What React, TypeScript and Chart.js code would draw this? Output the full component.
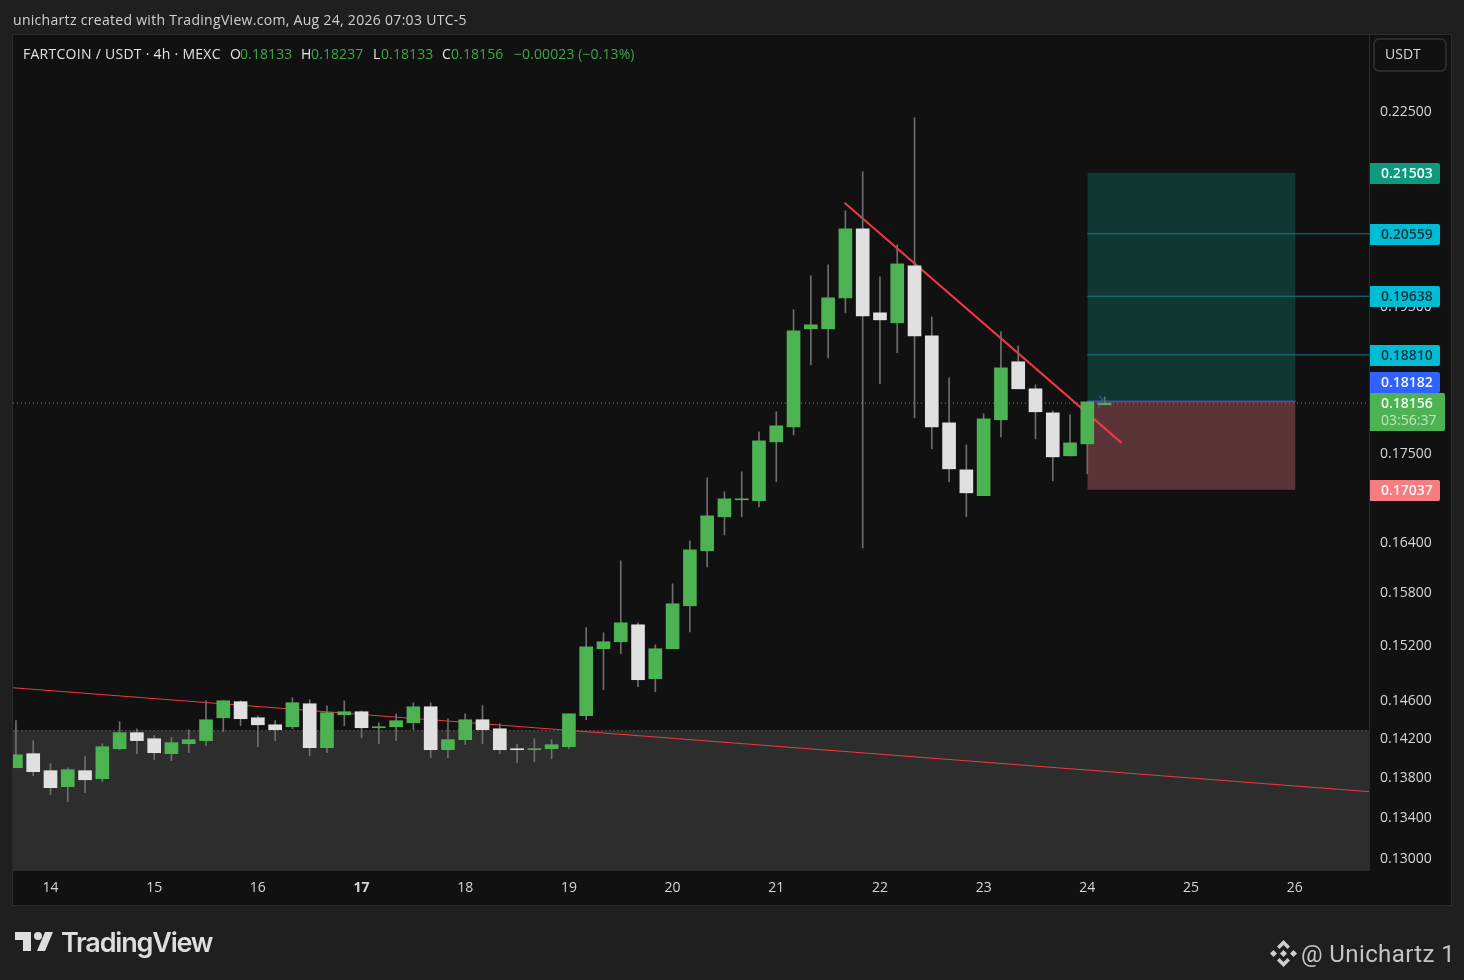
import React, { useEffect, useRef } from "react";
import { Chart, registerables } from "chart.js";

Chart.register(...registerables);

const FIRST_BAR = -2;
const opens = [0.13891,0.14035,0.13861,0.13699,0.13861,0.13779,0.14086,0.14253,0.14190,0.14035,0.14138,0.14170,0.14410,0.14581,0.14410,0.14336,0.14315,0.14559,0.14097,0.14442,0.14474,0.14305,0.14315,0.14357,0.14527,0.14076,0.14180,0.14389,0.14294,0.14086,0.14076,0.14086,0.14107,0.14431,0.15159,0.15237,0.15428,0.14829,0.15159,0.15645,0.16289,0.16701,0.16911,0.16899,0.17646,0.17842,0.19173,0.19173,0.19615,0.20634,0.19400,0.19258,0.20081,0.19075,0.17894,0.17287,0.16961,0.17934,0.18715,0.18347,0.18026,0.17466,0.17620,0.18133];
const highs = [0.14379,0.14170,0.13932,0.13891,0.14004,0.14138,0.14368,0.14294,0.14222,0.14201,0.14284,0.14591,0.14591,0.14591,0.14431,0.14379,0.14624,0.14602,0.14538,0.14591,0.14484,0.14357,0.14452,0.14570,0.14570,0.14400,0.14452,0.14538,0.14347,0.14128,0.14190,0.14180,0.14452,0.15395,0.15338,0.16170,0.15451,0.15204,0.15900,0.16409,0.17186,0.17010,0.17262,0.17777,0.18040,0.19443,0.19934,0.20096,0.20909,0.21516,0.19920,0.20393,0.22386,0.19343,0.18496,0.17607,0.18013,0.19131,0.18935,0.18401,0.18053,0.18000,0.18172,0.18237];
const lows = [0.13891,0.13810,0.13619,0.13549,0.13639,0.13749,0.14076,0.14035,0.13973,0.13963,0.14045,0.14118,0.14263,0.14326,0.14107,0.14170,0.14294,0.14014,0.14045,0.14326,0.14201,0.14138,0.14170,0.14284,0.13994,0.13994,0.14128,0.14138,0.14035,0.13942,0.13952,0.13983,0.14086,0.14389,0.14710,0.15104,0.14742,0.14688,0.15159,0.15349,0.16099,0.16481,0.16701,0.16824,0.17136,0.17737,0.18673,0.18769,0.19400,0.16325,0.18415,0.18839,0.17960,0.17556,0.17136,0.16701,0.16961,0.17711,0.18347,0.17685,0.17148,0.17466,0.17236,0.18133];
const closes = [0.14024,0.13851,0.13689,0.13871,0.13769,0.14107,0.14253,0.14170,0.14045,0.14149,0.14180,0.14389,0.14591,0.14400,0.14336,0.14284,0.14570,0.14097,0.14463,0.14474,0.14305,0.14315,0.14379,0.14527,0.14076,0.14180,0.14389,0.14284,0.14076,0.14076,0.14086,0.14128,0.14452,0.15181,0.15237,0.15451,0.14818,0.15159,0.15668,0.16301,0.16713,0.16923,0.16923,0.17659,0.17855,0.19145,0.19230,0.19615,0.20634,0.19357,0.19300,0.20110,0.19075,0.17842,0.17300,0.16998,0.17947,0.18632,0.18347,0.18040,0.17453,0.17633,0.18172,0.18156];

const dayLabels = ["14","15","16","17","18","19","20","21","22","23","24","25","26"];
const dayBars = [0,6,12,18,24,30,36,42,48,54,60,66,72];
const priceTicks = [0.225,0.195,0.175,0.164,0.158,0.152,0.146,0.142,0.138,0.134,0.13];

const axisBars = [-2.17, 76.3];
const axisPrices = [0.12886, 0.2379];
const zonePrice = 0.14274;
const thinTrendBars = [-2.17, 76.3];
const thinTrendPrices = [0.14731, 0.13649];
const thickTrendBars = [45.95, 61.98];
const thickTrendPrices = [0.21032, 0.17633];
const positionBars = [60, 72.05];
const targetPrice = 0.21503;
const entryPrice = 0.18182;
const stopPrice = 0.17037;
const takeProfits = [0.20559, 0.19638, 0.1881];
const lastPrice = 0.18156;
const countdown = "03:56:37";

const GREEN = "#4db252";
const WHITE = "#e0e0e0";
const WICK = "#6e6e6e";
const RED = "#f23645";
const FONT = "'Open Sans', sans-serif";

const barIndex = opens.map((_, k) => k + FIRST_BAR);

const legendItems: [string, string, number, number][] = [
  ["FARTCOIN / USDT · 4h · MEXC", "#e3e3e3", 23, 0.27],
  ["O", "#e3e3e3", 230, 0],
  ["0.18133", "#3ca845", 240, 0.1],
  ["H", "#e3e3e3", 301, 0],
  ["0.18237", "#3ca845", 311, 0.1],
  ["L", "#e3e3e3", 373, 0],
  ["0.18133", "#3ca845", 381, 0.1],
  ["C", "#e3e3e3", 442, 0],
  ["0.18156", "#3ca845", 451, 0.1],
  ["−0.00023 (−0.13%)", "#3ca845", 514, 0.1],
];

const chrome = {
  id: "chrome",
  beforeDraw(c: any) {
    const g = c.ctx;
    g.save();
    g.fillStyle = "#1f1f1f";
    g.fillRect(0, 0, c.width, c.height);
    g.fillStyle = "#2b2b2b";
    g.fillRect(12, 34, 1440, 872);
    g.fillStyle = "#111111";
    g.fillRect(13, 35, 1438, 870);
    g.restore();
  },
  afterDraw(c: any) {
    const g = c.ctx;
    const y = c.scales.y;
    g.save();
    g.strokeStyle = "#333333";
    g.lineWidth = 1.5;
    g.beginPath();
    g.roundRect(1374, 39, 72, 32, 5);
    g.stroke();
    g.font = `14px ${FONT}`;
    g.textBaseline = "middle";
    g.fillStyle = "#d8d8d8";
    g.fillText("USDT", 1385, 55);

    const tag = (price: number, bg: string, fg: string) => {
      const cy = Math.round(y.getPixelForValue(price));
      g.fillStyle = bg;
      g.beginPath();
      g.roundRect(1370, cy - 10, 70, 21, [0, 2, 2, 0]);
      g.fill();
      g.fillStyle = fg;
      g.font = `600 14px ${FONT}`;
      g.fillText(price.toFixed(5), 1381, cy + 1);
    };
    tag(targetPrice, "#0f9a80", "#eafff9");
    takeProfits.forEach((p) => tag(p, "#00bcd4", "#0a3640"));
    tag(stopPrice, "#f77c80", "#fff3f3");

    const ly = Math.round(y.getPixelForValue(lastPrice));
    g.fillStyle = "#2f62ff";
    g.beginPath();
    g.roundRect(1370, ly - 31, 70, 21, [0, 2, 2, 0]);
    g.fill();
    g.fillStyle = "#f2f5ff";
    g.font = `600 14px ${FONT}`;
    g.fillText(entryPrice.toFixed(5), 1381, ly - 20);

    g.fillStyle = GREEN;
    g.beginPath();
    g.roundRect(1370, ly - 10, 75, 38, [0, 2, 2, 0]);
    g.fill();
    g.fillStyle = "#f0fff0";
    g.fillText(lastPrice.toFixed(5), 1381, ly + 1);
    g.fillStyle = "#bfe6c1";
    g.font = `14px ${FONT}`;
    g.fillText(countdown, 1381, ly + 18);

    const gx = c.scales.x.getPixelForValue(barIndex[barIndex.length - 1]);
    g.strokeStyle = "#2962ff";
    g.lineWidth = 1;
    g.beginPath();
    g.moveTo(gx - 5, ly - 7);
    g.lineTo(gx - 2, ly - 3);
    g.lineTo(gx - 6, ly);
    g.moveTo(gx - 3, ly + 1);
    g.lineTo(gx - 7, ly + 5);
    g.stroke();
    g.restore();
  },
};

export default function App() {
  const ref = useRef<HTMLCanvasElement>(null);
  useEffect(() => {
    document.body.style.margin = "0";
    document.body.style.background = "#1f1f1f";
    const wicks = barIndex.map((x, k) => ({ x, y: [lows[k], highs[k]] }));
    const bodies = barIndex.map((x, k) => ({ x, y: [opens[k], closes[k]] }));
    const bodyColors = barIndex.map((_, k) => (closes[k] >= opens[k] ? GREEN : WHITE));
    const hline = (price: number, xs: number[]) => xs.map((x) => ({ x, y: price }));
    const tail = [positionBars[0], axisBars[1]];

    const chart = new Chart(ref.current!, {
      type: "bar",
      data: {
        datasets: [
          {
            type: "line",
            data: hline(zonePrice, axisBars),
            borderColor: "#555555",
            borderWidth: 1,
            borderDash: [2, 2],
            backgroundColor: "#2d2d2d",
            fill: "start",
            pointRadius: 0,
            order: 9,
          },
          {
            type: "line",
            data: hline(targetPrice, positionBars),
            borderWidth: 0,
            backgroundColor: "#113733",
            fill: { value: entryPrice },
            pointRadius: 0,
            order: 8,
          },
          {
            type: "line",
            data: hline(entryPrice, positionBars),
            borderColor: "#2962ff",
            borderWidth: 1,
            backgroundColor: "#5b3438",
            fill: { value: stopPrice },
            pointRadius: 0,
            order: 7,
          },
          ...takeProfits.map((p) => ({
            type: "line" as const,
            data: hline(p, tail),
            borderColor: "#0e7f8e",
            borderWidth: 1,
            pointRadius: 0,
            order: 6,
          })),
          {
            type: "line",
            data: hline(lastPrice, axisBars),
            borderColor: "#6d8f6f",
            borderWidth: 1,
            borderDash: [1, 3],
            pointRadius: 0,
            order: 5,
          },
          {
            type: "line",
            data: thinTrendBars.map((x, k) => ({ x, y: thinTrendPrices[k] })),
            borderColor: RED,
            borderWidth: 1,
            pointRadius: 0,
            order: 4,
          },
          {
            type: "line",
            data: thickTrendBars.map((x, k) => ({ x, y: thickTrendPrices[k] })),
            borderColor: RED,
            borderWidth: 2,
            pointRadius: 0,
            order: 3,
          },
          {
            type: "bar",
            data: wicks,
            backgroundColor: WICK,
            barThickness: 1,
            grouped: false,
            order: 2,
          },
          {
            type: "bar",
            data: bodies,
            backgroundColor: bodyColors,
            barThickness: 13,
            minBarLength: 1,
            grouped: false,
            order: 1,
          },
        ] as any,
      },
      options: {
        responsive: false,
        animation: false,
        devicePixelRatio: 1,
        layout: { padding: { left: 13, right: 13, top: 35, bottom: 75 } },
        plugins: { legend: { display: false }, tooltip: { enabled: false } },
        scales: {
          x: {
            type: "linear",
            offset: false,
            min: axisBars[0],
            max: axisBars[1],
            afterFit: (s: any) => { s.height = 35; },
            afterBuildTicks: (s: any) => { s.ticks = dayBars.map((value) => ({ value })); },
            grid: { display: false, drawTicks: false },
            border: { display: true, color: "#2a2a33", width: 1 },
            ticks: {
              autoSkip: false,
              maxRotation: 0,
              padding: 10,
              color: "#d6d6d6",
              font: (ctx: any) => ({
                family: FONT,
                size: 14,
                weight: dayLabels[dayBars.indexOf(ctx.tick?.value)] === "17" ? "bold" : "normal",
              }),
              callback: (v: any) => dayLabels[dayBars.indexOf(v)] ?? "",
            },
          },
          y: {
            type: "logarithmic",
            position: "right",
            min: axisPrices[0],
            max: axisPrices[1],
            afterFit: (s: any) => { s.width = 82; },
            afterBuildTicks: (s: any) => { s.ticks = priceTicks.map((value) => ({ value })); },
            grid: { display: false, drawTicks: false },
            border: { display: true, color: "#2a2a33", width: 1 },
            ticks: {
              autoSkip: false,
              padding: 11,
              labelOffset: 1,
              color: "#d6d6d6",
              font: { family: FONT, size: 14 },
              callback: (v: any) => Number(v).toFixed(5),
            },
          },
        },
      } as any,
      plugins: [chrome],
    });
    return () => chart.destroy();
  }, []);

  const abs = (left: number, top: number, extra: React.CSSProperties = {}): React.CSSProperties => ({
    position: "absolute",
    left,
    top,
    fontFamily: FONT,
    lineHeight: "18px",
    whiteSpace: "nowrap",
    ...extra,
  });

  return (
    <div style={{ position: "relative", width: 1464, height: 980, overflow: "hidden" }}>
      <canvas ref={ref} width={1464} height={980} style={{ display: "block" }} />
      <div style={abs(13, 11, { fontSize: 14, color: "#d1d1d1", letterSpacing: 0.3 })}>
        unichartz created with TradingView.com, Aug 24, 2026 07:03 UTC-5
      </div>
      {legendItems.map(([t, color, x, spacing], k) => (
        <div key={k} style={abs(x, 45, { fontSize: 14, color, letterSpacing: spacing })}>{t}</div>
      ))}
      <svg style={{ position: "absolute", left: 15, top: 932 }} width={38} height={20} viewBox="0 0 38 20">
        <path d="M0 0H16V19H8V8H0Z" fill="#dedede" />
        <path d="M30 0H38L30 19H22Z" fill="#dedede" />
        <circle cx="23" cy="4" r="4" fill="#dedede" />
      </svg>
      <div style={abs(61, 929, { fontSize: 27, lineHeight: "28px", fontWeight: 600, color: "#dedede", fontFamily: "Inter, sans-serif", letterSpacing: -1.2 })}>TradingView</div>
      <svg style={{ position: "absolute", left: 1270, top: 940 }} width={27} height={27} viewBox="0 0 27 27">
        <g fill="#cfcfcf">
          <path d="M13.5 0L20 6.5L17.5 9L13.5 5L9.5 9L7 6.5Z" />
          <path d="M13.5 27L20 20.5L17.5 18L13.5 22L9.5 18L7 20.5Z" />
          <path d="M13.5 10L17 13.5L13.5 17L10 13.5Z" />
          <path d="M3.5 10L7 13.5L3.5 17L0 13.5Z" />
          <path d="M23.5 10L27 13.5L23.5 17L20 13.5Z" />
        </g>
      </svg>
      <div style={abs(1301, 940, { fontSize: 24, lineHeight: "28px", color: "#c4c4c4", fontFamily: "Roboto, sans-serif", letterSpacing: 0.4 })}>@ Unichartz 1</div>
    </div>
  );
}
